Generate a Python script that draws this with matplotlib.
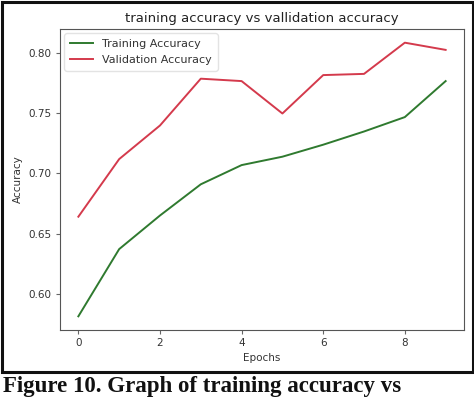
import matplotlib
matplotlib.use("Agg")
import matplotlib.pyplot as plt
from matplotlib.patches import Rectangle

epochs = [0, 1, 2, 3, 4, 5, 6, 7, 8, 9]
train_acc = [0.581, 0.637, 0.665, 0.691, 0.707, 0.714, 0.724, 0.735, 0.747, 0.777]
val_acc = [0.664, 0.712, 0.740, 0.779, 0.777, 0.750, 0.782, 0.783, 0.809, 0.803]
x_ticks = [0, 2, 4, 6, 8]
y_ticks = [0.60, 0.65, 0.70, 0.75, 0.80]

title = "training accuracy vs vallidation accuracy"
caption = "Figure 10. Graph of training accuracy vs"

txt = "#333333"
fig = plt.figure(figsize=(4.74, 3.98), dpi=100)
ax = fig.add_axes([60/474, 1-330/398, 404/474, 301/398])

ax.plot(epochs, train_acc, color="#2f7a2f", lw=1.4, label="Training Accuracy")
ax.plot(epochs, val_acc, color="#d43a4c", lw=1.4, label="Validation Accuracy")

ax.set_xticks(x_ticks)
ax.set_yticks(y_ticks)
ax.set_yticklabels([f"{v:.2f}" for v in y_ticks])
ax.tick_params(labelsize=7.5, colors="#666666", labelcolor=txt, length=2.6, width=0.8)
for s in ax.spines.values():
    s.set_color("#555555")
    s.set_linewidth(0.8)
ax.set_title(title, fontsize=9.5, color="#222222", pad=5)
ax.set_xlabel("Epochs", fontsize=7.5, color=txt, labelpad=3)
ax.set_ylabel("Accuracy", fontsize=7.5, color=txt, labelpad=4)
leg = ax.legend(loc="upper left", fontsize=8, frameon=True, handlelength=2.1,
                borderpad=0.5, labelspacing=0.55, borderaxespad=0.4)
for t in leg.get_texts():
    t.set_color(txt)
leg.get_frame().set_edgecolor("#dddddd")

fig.patches.append(Rectangle((1.5/474, 1-372/398), 471/474, 370/398, transform=fig.transFigure,
                             fill=False, edgecolor="#111111", lw=2.2))
fig.text(3/474, 1-392/398, caption, fontsize=16.5, fontweight="bold",
         family="Liberation Serif", color="#111111", ha="left", va="baseline")

fig.savefig("out.png", dpi=100)
